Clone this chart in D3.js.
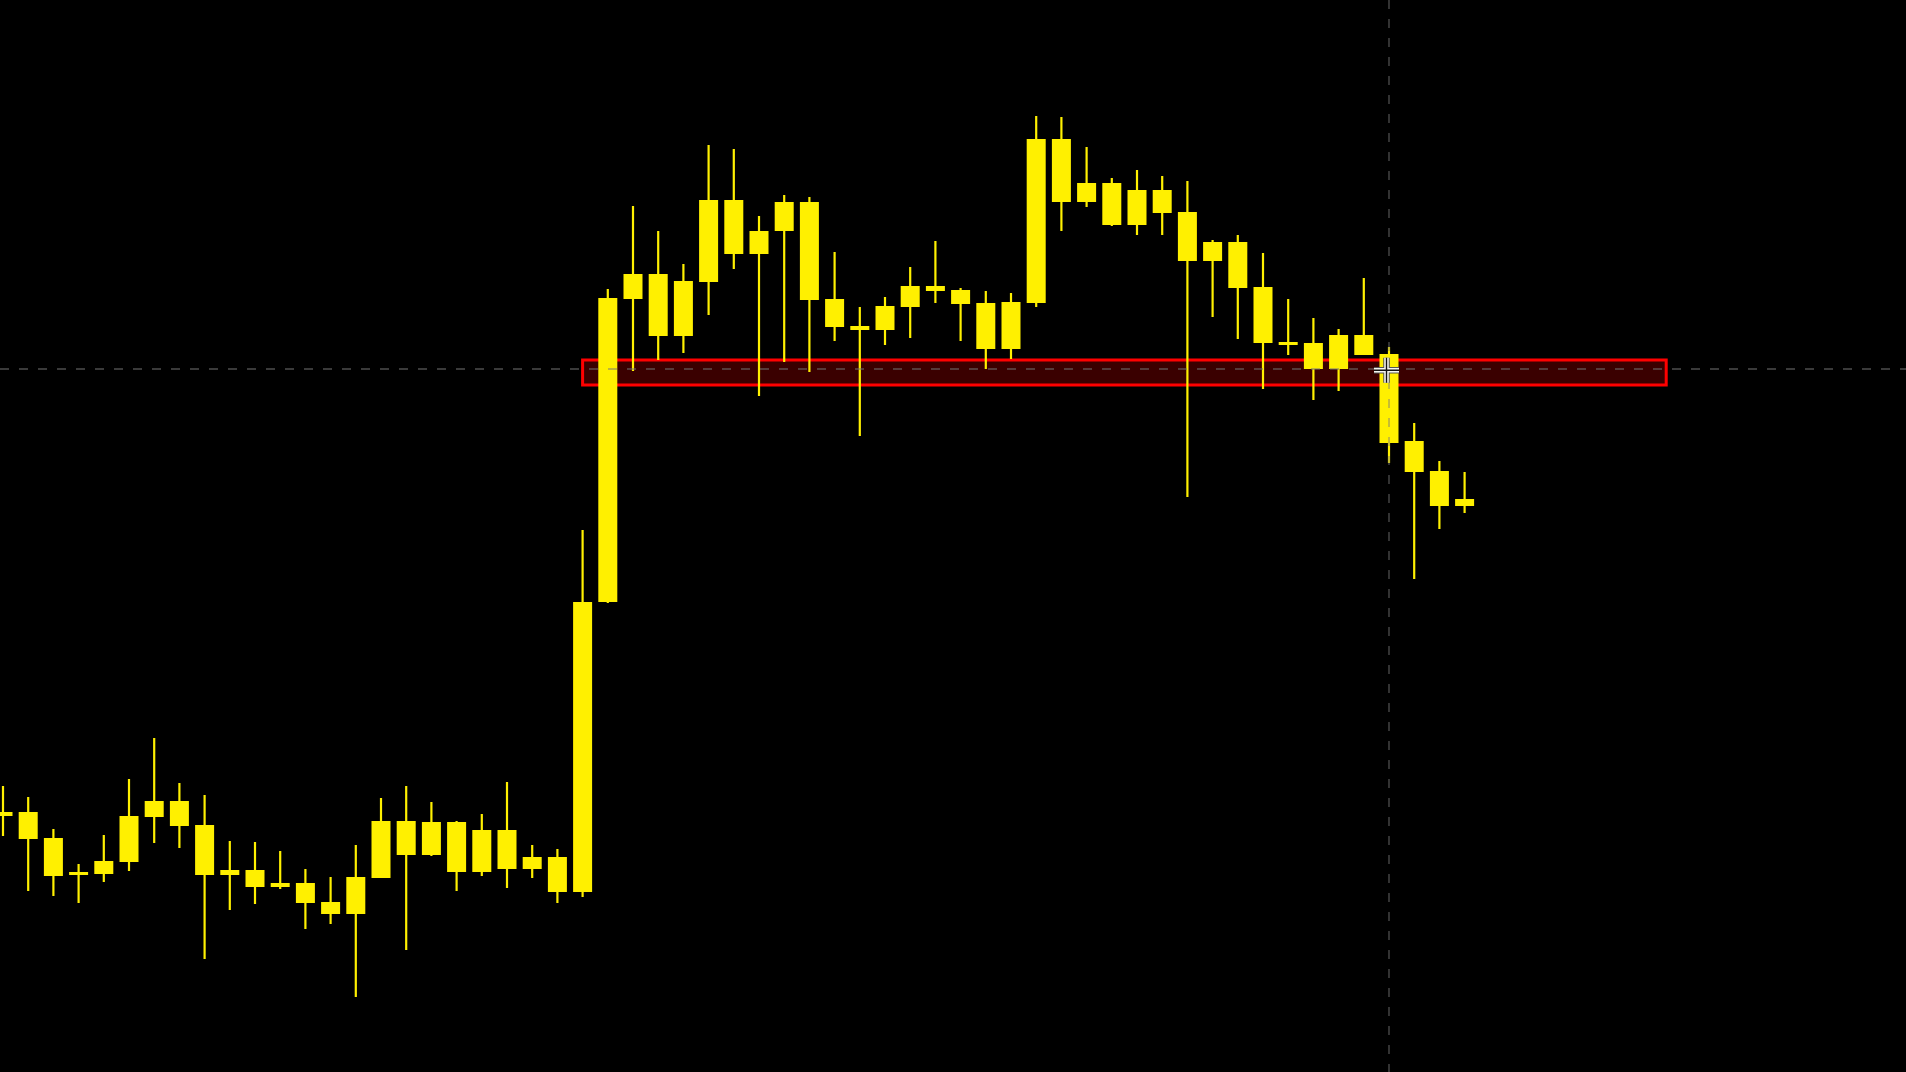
<!DOCTYPE html>
<html>
<head>
<meta charset="utf-8">
<script src="https://cdn.jsdelivr.net/npm/d3@7"></script>
<style>
  html, body { margin: 0; padding: 0; background: #000; overflow: hidden; }
  svg { display: block; }
</style>
</head>
<body>
<svg id="chart" width="1906" height="1072"></svg>
<script>
// candle data (bar index = position)
const opens = [2025.6, 2026.0, 2023.4, 2019.8, 2019.8, 2021.0, 2025.5, 2027.1, 2024.7, 2019.7,
  2020.2, 2018.5, 2018.9, 2017.0, 2015.8, 2019.4, 2025.1, 2021.7, 2025.0, 2020.0,
  2024.2, 2020.3, 2021.5, 2018.0, 2047.0, 2077.3, 2079.8, 2073.6, 2079.0, 2087.2,
  2081.8, 2084.1, 2087.0, 2077.3, 2074.6, 2074.2, 2076.5, 2078.6, 2078.2, 2076.9,
  2072.3, 2076.9, 2093.3, 2087.0, 2088.9, 2084.7, 2088.2, 2086.0, 2081.1, 2083.0,
  2078.5, 2072.8, 2072.9, 2070.3, 2073.7, 2071.8, 2063.1, 2060.1, 2056.6];
const closes = [2026.0, 2023.3, 2019.6, 2020.0, 2021.1, 2025.6, 2027.1, 2024.6, 2019.7, 2020.2,
  2018.5, 2018.9, 2016.9, 2015.8, 2019.5, 2025.1, 2021.7, 2025.0, 2020.0, 2024.2,
  2020.3, 2021.5, 2018.0, 2047.0, 2077.4, 2079.8, 2073.6, 2079.1, 2087.2, 2081.8,
  2084.1, 2087.0, 2077.2, 2074.5, 2074.2, 2076.6, 2078.6, 2078.1, 2076.8, 2072.3,
  2077.0, 2093.3, 2087.0, 2088.9, 2084.7, 2088.2, 2085.9, 2081.1, 2083.0, 2078.4,
  2072.9, 2073.0, 2070.3, 2073.7, 2071.7, 2062.9, 2060.0, 2056.6, 2057.3];
const highs = [2028.6, 2027.5, 2024.3, 2020.8, 2023.7, 2029.3, 2033.4, 2028.9, 2027.7, 2023.1,
  2023.0, 2022.1, 2020.3, 2019.5, 2022.7, 2027.4, 2028.6, 2027.0, 2025.1, 2025.8,
  2029.0, 2022.7, 2022.3, 2054.2, 2078.3, 2086.6, 2084.1, 2080.8, 2092.7, 2092.3,
  2085.6, 2087.7, 2087.5, 2082.0, 2076.5, 2077.5, 2080.5, 2083.1, 2078.4, 2078.1,
  2077.9, 2095.6, 2095.5, 2092.5, 2089.4, 2090.2, 2089.6, 2089.1, 2083.2, 2083.7,
  2081.9, 2077.3, 2075.4, 2074.3, 2079.4, 2072.5, 2064.9, 2061.1, 2060.0];
const lows = [2023.6, 2018.1, 2017.6, 2016.9, 2019.0, 2020.1, 2022.9, 2022.4, 2011.3, 2016.2,
  2016.8, 2018.3, 2014.3, 2014.8, 2007.5, 2019.4, 2012.2, 2021.6, 2018.1, 2019.6,
  2018.4, 2019.4, 2016.9, 2017.5, 2046.9, 2070.1, 2071.2, 2071.9, 2075.7, 2080.3,
  2067.6, 2071.0, 2070.0, 2073.1, 2063.6, 2072.7, 2073.4, 2076.9, 2073.1, 2070.3,
  2071.3, 2076.5, 2084.1, 2086.5, 2084.6, 2083.7, 2083.7, 2057.5, 2075.5, 2073.3,
  2068.3, 2071.7, 2067.2, 2068.1, 2071.7, 2060.9, 2049.3, 2054.3, 2055.9];

// red zone: from bar 23 out to bar 66, between these two prices
const zoneBars = [23, 66];
const zonePrices = [2071.2, 2068.7];

// crosshair: bar index and price
const crossBar = 55;
const crossPrice = 2070.3;

const svg = d3.select("#chart");
const width = +svg.attr("width");
const height = +svg.attr("height");

const x = d3.scaleLinear().domain([0, 58]).range([3, 3 + 58 * 25.2]);
const y = d3.scaleLinear().domain([2000, 2107.2]).range([height, 0]);

const bodyW = 19;
const yellow = "#fff000";

const candles = opens.map(function (o, i) {
  return { i: i, o: o, c: closes[i], h: highs[i], l: lows[i] };
});

// zone under the candles
svg.append("rect")
  .attr("x", x(zoneBars[0]))
  .attr("y", y(zonePrices[0]))
  .attr("width", x(zoneBars[1]) - x(zoneBars[0]))
  .attr("height", y(zonePrices[1]) - y(zonePrices[0]))
  .style("fill", "#3a0000")
  .style("stroke", "#ff0000")
  .style("stroke-width", 3);

let g = svg.append("g").attr("class", "candles");

g.selectAll("line.wick")
  .data(candles)
  .enter().append("line")
    .attr("class", "wick")
    .attr("x1", function (d) { return x(d.i); })
    .attr("x2", function (d) { return x(d.i); })
    .attr("y1", function (d) { return y(d.h); })
    .attr("y2", function (d) { return y(d.l); })
    .style("stroke", yellow)
    .style("stroke-width", 2.2);

g.selectAll("rect.body")
  .data(candles)
  .enter().append("rect")
    .attr("class", "body")
    .attr("x", function (d) { return x(d.i) - bodyW / 2; })
    .attr("y", function (d) { return y(Math.max(d.o, d.c)); })
    .attr("width", bodyW)
    .attr("height", function (d) { return Math.max(3, Math.abs(y(d.o) - y(d.c))); })
    .style("fill", yellow);

// crosshair on top
const cx = x(crossBar);
const cy = y(crossPrice);
const cross = svg.append("g").style("stroke", "rgba(120,120,120,0.65)").style("stroke-width", 1.3)
  .style("stroke-dasharray", "9,10");
cross.append("line").attr("x1", 0).attr("x2", width).attr("y1", cy).attr("y2", cy);
cross.append("line").attr("x1", cx).attr("x2", cx).attr("y1", 0).attr("y2", height);

// mouse cursor
const cur = svg.append("g").attr("transform", "translate(" + (cx - 2.5) + "," + (cy + 1.2) + ")");
const curPath = "M-12.5,0H12.5M0,-12.5V12.5";
cur.append("path").attr("d", curPath).style("stroke", "#555").style("stroke-width", 6.5);
cur.append("path").attr("d", curPath).style("stroke", "#f6f6f0").style("stroke-width", 4.5);
cur.append("path").attr("d", curPath).style("stroke", "#111").style("stroke-width", 1.4);
</script>
</body>
</html>
